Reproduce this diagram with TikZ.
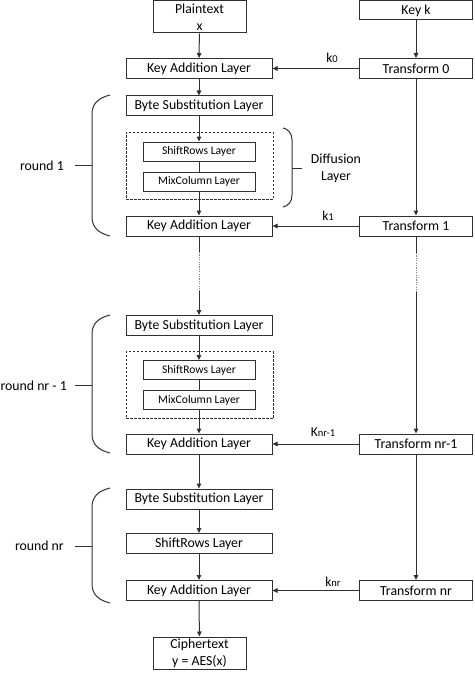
\documentclass[tikz,border=0pt]{standalone}
\usepackage{fontspec}
\setmainfont{Carlito}
\usetikzlibrary{arrows.meta}
\definecolor{lc}{HTML}{303030}
\begin{document}
\begin{tikzpicture}[x=1pt,y=-1pt,
  box/.style={draw=lc, line width=1pt, inner sep=0pt, minimum width=146pt, minimum height=20pt, font=\fontsize{13.8}{15}\selectfont, text=black},
  smallbox/.style={box, minimum width=112pt, minimum height=19pt, font=\fontsize{11.6}{13}\selectfont},
  tbox/.style={box, minimum width=113pt},
  iobox/.style={box, minimum width=93pt, minimum height=32pt, align=center, font=\fontsize{13.8}{17}\selectfont},
  dbox/.style={draw=lc, line width=0.8pt, dash pattern=on 2.5pt off 1.5pt, minimum width=147pt, minimum height=67pt, inner sep=0pt},
  conn/.style={draw=lc, line width=1pt},
  arr/.style={conn, -{Triangle[length=5pt,width=4.5pt]}},
  dotline/.style={draw=lc!60, line width=1pt, dash pattern=on 1.2pt off 1.2pt},
  brace/.style={draw=lc, line width=1pt},
  lbl/.style={inner sep=0pt, font=\fontsize{13.8}{15}\selectfont, text=black},
  klbl/.style={inner sep=0pt, font=\fontsize{13.5}{15}\selectfont, text=black}
]
\useasboundingbox (0,0) rectangle (474,698);

% left column
\node[iobox] (plain) at (199.5,17) {Plaintext\\x};
\node[box] (ka0) at (199,68.5) {Key Addition Layer};
\node[box] (bs1) at (199,106) {Byte Substitution Layer};
\node[dbox] (db1) at (199.5,165.5) {};
\node[smallbox] (sr1) at (199,151.5) {ShiftRows Layer};
\node[smallbox] (mc1) at (199,181.5) {MixColumn Layer};
\node[box] (ka1) at (199,226) {Key Addition Layer};
\node[box] (bs2) at (199,325.5) {Byte Substitution Layer};
\node[dbox] (db2) at (199.5,385) {};
\node[smallbox] (sr2) at (199,370) {ShiftRows Layer};
\node[smallbox] (mc2) at (199,400) {MixColumn Layer};
\node[box] (ka2) at (199,444) {Key Addition Layer};
\node[box] (bs3) at (199,499) {Byte Substitution Layer};
\node[box] (sr3) at (199,543.5) {ShiftRows Layer};
\node[box] (ka3) at (199,590.5) {Key Addition Layer};
\node[iobox] (ct) at (199.5,653) {Ciphertext\\y = AES(x)};

% right column
\node[tbox, minimum height=19pt] (key) at (416,10.5) {Key k};
\node[tbox] (t0) at (416,68.5) {Transform 0};
\node[tbox] (t1) at (416,226) {Transform 1};
\node[tbox] (t2) at (416,444) {Transform nr-1};
\node[tbox] (t3) at (416,590.5) {Transform nr};

% coordinates for the dotted gaps
\coordinate (l1) at (199,252);
\coordinate (l2) at (199,291);
\coordinate (r1) at (416,253);
\coordinate (r2) at (416,292);

% connectors
\draw[arr] (plain) -- (ka0);
\draw[arr] (key) -- (t0);
\draw[arr] (t0) -- (ka0);
\draw[arr] (ka0) -- (bs1);
\draw[arr] (bs1) -- (sr1);
\draw[conn] (sr1) -- (mc1);
\draw[arr] (mc1) -- (ka1);
\draw[arr] (t0) -- (t1);
\draw[arr] (t1) -- (ka1);
\draw[conn] (ka1) -- (l1);
\draw[dotline] (l1) -- (l2);
\draw[arr] (l2) -- (bs2);
\draw[conn] (t1) -- (r1);
\draw[dotline] (r1) -- (r2);
\draw[arr] (r2) -- (t2);
\draw[arr] (bs2) -- (sr2);
\draw[conn] (sr2) -- (mc2);
\draw[arr] (mc2) -- (ka2);
\draw[arr] (t2) -- (ka2);
\draw[arr] (ka2) -- (bs3);
\draw[arr] (bs3) -- (sr3);
\draw[arr] (sr3) -- (ka3);
\draw[arr] (t2) -- (t3);
\draw[arr] (t3) -- (ka3);
\draw[arr] (ka3) -- (ct);

% key labels
\node[klbl] (k0) at (332,58) {k{\fontsize{10.5}{12}\selectfont 0}};
\node[klbl] (k1) at (328,216) {k{\fontsize{10.5}{12}\selectfont 1}};
\node[klbl] (k2) at (323,432) {K{\fontsize{10.5}{12}\selectfont nr-1}};
\node[klbl] (k3) at (333,582) {k{\fontsize{10.5}{12}\selectfont nr}};

% braces
\draw[brace] (110,95) .. controls (98,98) and (92,104) .. (92,114) -- (92,217) .. controls (92,227) and (98,233) .. (110,236);
\draw[brace] (75,165) -- (92,165);
\node[lbl, anchor=east] (r1lbl) at (64,166) {round 1};

\draw[brace] (283,128) .. controls (288,129) and (292,133) .. (292,140) -- (292,195) .. controls (292,202) and (288,206) .. (283,207);
\draw[brace] (292,168) -- (302,168);
\node[lbl, align=center, font=\fontsize{13.8}{17}\selectfont] (dl) at (336,168) {Diffusion\\Layer};

\draw[brace] (110,315) .. controls (98,318) and (92,324) .. (92,334) -- (92,434) .. controls (92,444) and (98,450) .. (110,453);
\draw[brace] (75,385) -- (92,385);
\node[lbl, anchor=east] (r2lbl) at (67,386) {round nr - 1};

\draw[brace] (110,488) .. controls (98,491) and (92,497) .. (92,507) -- (92,584) .. controls (92,594) and (98,600) .. (110,603);
\draw[brace] (75,546) -- (92,546);
\node[lbl, anchor=east] (r3lbl) at (64,546) {round nr};
\end{tikzpicture}
\end{document}
